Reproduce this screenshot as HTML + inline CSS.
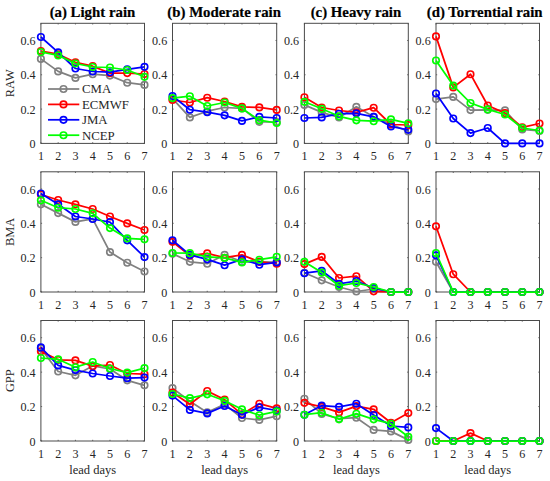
<!DOCTYPE html><html><head><meta charset="utf-8"><style>html,body{margin:0;padding:0;background:#fff}svg{display:block}text{font-family:"Liberation Serif",serif}</style></head><body>
<svg width="550" height="481" viewBox="0 0 550 481">
<path d="M40.90 143.4v-1.2M40.90 23.3v1.2M58.17 143.4v-1.2M58.17 23.3v1.2M75.43 143.4v-1.2M75.43 23.3v1.2M92.70 143.4v-1.2M92.70 23.3v1.2M109.97 143.4v-1.2M109.97 23.3v1.2M127.23 143.4v-1.2M127.23 23.3v1.2M144.50 143.4v-1.2M144.50 23.3v1.2M40.9 143.40h1.2M144.5 143.40h-1.2M40.9 109.09h1.2M144.5 109.09h-1.2M40.9 74.77h1.2M144.5 74.77h-1.2M40.9 40.46h1.2M144.5 40.46h-1.2" stroke="#4a4a4a" stroke-width="0.8" fill="none"/>
<rect x="40.9" y="23.3" width="103.6" height="120.1" fill="none" stroke="#4a4a4a" stroke-width="1"/>
<path d="M40.90 58.90 L58.17 71.40 L75.43 77.90 L92.70 74.20 L109.97 75.60 L127.23 82.70 L144.50 84.90" stroke="#808080" stroke-width="1.75" fill="none" stroke-linejoin="round"/>
<circle cx="40.90" cy="58.90" r="3.25" stroke="#808080" stroke-width="1.65" fill="none"/>
<circle cx="58.17" cy="71.40" r="3.25" stroke="#808080" stroke-width="1.65" fill="none"/>
<circle cx="75.43" cy="77.90" r="3.25" stroke="#808080" stroke-width="1.65" fill="none"/>
<circle cx="92.70" cy="74.20" r="3.25" stroke="#808080" stroke-width="1.65" fill="none"/>
<circle cx="109.97" cy="75.60" r="3.25" stroke="#808080" stroke-width="1.65" fill="none"/>
<circle cx="127.23" cy="82.70" r="3.25" stroke="#808080" stroke-width="1.65" fill="none"/>
<circle cx="144.50" cy="84.90" r="3.25" stroke="#808080" stroke-width="1.65" fill="none"/>
<path d="M40.90 51.10 L58.17 54.20 L75.43 62.30 L92.70 66.20 L109.97 73.10 L127.23 73.10 L144.50 74.00" stroke="#ff0000" stroke-width="1.75" fill="none" stroke-linejoin="round"/>
<circle cx="40.90" cy="51.10" r="3.25" stroke="#ff0000" stroke-width="1.65" fill="none"/>
<circle cx="58.17" cy="54.20" r="3.25" stroke="#ff0000" stroke-width="1.65" fill="none"/>
<circle cx="75.43" cy="62.30" r="3.25" stroke="#ff0000" stroke-width="1.65" fill="none"/>
<circle cx="92.70" cy="66.20" r="3.25" stroke="#ff0000" stroke-width="1.65" fill="none"/>
<circle cx="109.97" cy="73.10" r="3.25" stroke="#ff0000" stroke-width="1.65" fill="none"/>
<circle cx="127.23" cy="73.10" r="3.25" stroke="#ff0000" stroke-width="1.65" fill="none"/>
<circle cx="144.50" cy="74.00" r="3.25" stroke="#ff0000" stroke-width="1.65" fill="none"/>
<path d="M40.90 37.00 L58.17 52.30 L75.43 68.50 L92.70 71.50 L109.97 72.20 L127.23 69.30 L144.50 66.80" stroke="#0000ff" stroke-width="1.75" fill="none" stroke-linejoin="round"/>
<circle cx="40.90" cy="37.00" r="3.25" stroke="#0000ff" stroke-width="1.65" fill="none"/>
<circle cx="58.17" cy="52.30" r="3.25" stroke="#0000ff" stroke-width="1.65" fill="none"/>
<circle cx="75.43" cy="68.50" r="3.25" stroke="#0000ff" stroke-width="1.65" fill="none"/>
<circle cx="92.70" cy="71.50" r="3.25" stroke="#0000ff" stroke-width="1.65" fill="none"/>
<circle cx="109.97" cy="72.20" r="3.25" stroke="#0000ff" stroke-width="1.65" fill="none"/>
<circle cx="127.23" cy="69.30" r="3.25" stroke="#0000ff" stroke-width="1.65" fill="none"/>
<circle cx="144.50" cy="66.80" r="3.25" stroke="#0000ff" stroke-width="1.65" fill="none"/>
<path d="M40.90 52.00 L58.17 55.40 L75.43 63.50 L92.70 67.00 L109.97 67.50 L127.23 70.00 L144.50 76.80" stroke="#00ff00" stroke-width="1.75" fill="none" stroke-linejoin="round"/>
<circle cx="40.90" cy="52.00" r="3.25" stroke="#00ff00" stroke-width="1.65" fill="none"/>
<circle cx="58.17" cy="55.40" r="3.25" stroke="#00ff00" stroke-width="1.65" fill="none"/>
<circle cx="75.43" cy="63.50" r="3.25" stroke="#00ff00" stroke-width="1.65" fill="none"/>
<circle cx="92.70" cy="67.00" r="3.25" stroke="#00ff00" stroke-width="1.65" fill="none"/>
<circle cx="109.97" cy="67.50" r="3.25" stroke="#00ff00" stroke-width="1.65" fill="none"/>
<circle cx="127.23" cy="70.00" r="3.25" stroke="#00ff00" stroke-width="1.65" fill="none"/>
<circle cx="144.50" cy="76.80" r="3.25" stroke="#00ff00" stroke-width="1.65" fill="none"/>
<text transform="translate(35.60,147.95) scale(0.91,1)" font-size="13.3" text-anchor="end" fill="#262626">0</text>
<text transform="translate(35.60,113.64) scale(0.91,1)" font-size="13.3" text-anchor="end" fill="#262626">0.2</text>
<text transform="translate(35.60,79.32) scale(0.91,1)" font-size="13.3" text-anchor="end" fill="#262626">0.4</text>
<text transform="translate(35.60,45.01) scale(0.91,1)" font-size="13.3" text-anchor="end" fill="#262626">0.6</text>
<text transform="translate(40.90,159.90) scale(0.91,1)" font-size="13.3" text-anchor="middle" fill="#262626">1</text>
<text transform="translate(58.17,159.90) scale(0.91,1)" font-size="13.3" text-anchor="middle" fill="#262626">2</text>
<text transform="translate(75.43,159.90) scale(0.91,1)" font-size="13.3" text-anchor="middle" fill="#262626">3</text>
<text transform="translate(92.70,159.90) scale(0.91,1)" font-size="13.3" text-anchor="middle" fill="#262626">4</text>
<text transform="translate(109.97,159.90) scale(0.91,1)" font-size="13.3" text-anchor="middle" fill="#262626">5</text>
<text transform="translate(127.23,159.90) scale(0.91,1)" font-size="13.3" text-anchor="middle" fill="#262626">6</text>
<text transform="translate(144.50,159.90) scale(0.91,1)" font-size="13.3" text-anchor="middle" fill="#262626">7</text>
<text transform="translate(92.45,17) scale(1.06,1)" font-size="14" font-weight="bold" text-anchor="middle" fill="#000" stroke="#000" stroke-width="0.2">(a) Light rain</text>
<path d="M172.50 143.4v-1.2M172.50 23.3v1.2M189.87 143.4v-1.2M189.87 23.3v1.2M207.23 143.4v-1.2M207.23 23.3v1.2M224.60 143.4v-1.2M224.60 23.3v1.2M241.97 143.4v-1.2M241.97 23.3v1.2M259.33 143.4v-1.2M259.33 23.3v1.2M276.70 143.4v-1.2M276.70 23.3v1.2M172.5 143.40h1.2M276.7 143.40h-1.2M172.5 109.09h1.2M276.7 109.09h-1.2M172.5 74.77h1.2M276.7 74.77h-1.2M172.5 40.46h1.2M276.7 40.46h-1.2" stroke="#4a4a4a" stroke-width="0.8" fill="none"/>
<rect x="172.5" y="23.3" width="104.2" height="120.1" fill="none" stroke="#4a4a4a" stroke-width="1"/>
<path d="M172.50 98.70 L189.87 117.40 L207.23 111.20 L224.60 107.50 L241.97 108.40 L259.33 121.80 L276.70 122.00" stroke="#808080" stroke-width="1.75" fill="none" stroke-linejoin="round"/>
<circle cx="172.50" cy="98.70" r="3.25" stroke="#808080" stroke-width="1.65" fill="none"/>
<circle cx="189.87" cy="117.40" r="3.25" stroke="#808080" stroke-width="1.65" fill="none"/>
<circle cx="207.23" cy="111.20" r="3.25" stroke="#808080" stroke-width="1.65" fill="none"/>
<circle cx="224.60" cy="107.50" r="3.25" stroke="#808080" stroke-width="1.65" fill="none"/>
<circle cx="241.97" cy="108.40" r="3.25" stroke="#808080" stroke-width="1.65" fill="none"/>
<circle cx="259.33" cy="121.80" r="3.25" stroke="#808080" stroke-width="1.65" fill="none"/>
<circle cx="276.70" cy="122.00" r="3.25" stroke="#808080" stroke-width="1.65" fill="none"/>
<path d="M172.50 100.00 L189.87 102.50 L207.23 97.70 L224.60 101.50 L241.97 106.80 L259.33 107.40 L276.70 109.90" stroke="#ff0000" stroke-width="1.75" fill="none" stroke-linejoin="round"/>
<circle cx="172.50" cy="100.00" r="3.25" stroke="#ff0000" stroke-width="1.65" fill="none"/>
<circle cx="189.87" cy="102.50" r="3.25" stroke="#ff0000" stroke-width="1.65" fill="none"/>
<circle cx="207.23" cy="97.70" r="3.25" stroke="#ff0000" stroke-width="1.65" fill="none"/>
<circle cx="224.60" cy="101.50" r="3.25" stroke="#ff0000" stroke-width="1.65" fill="none"/>
<circle cx="241.97" cy="106.80" r="3.25" stroke="#ff0000" stroke-width="1.65" fill="none"/>
<circle cx="259.33" cy="107.40" r="3.25" stroke="#ff0000" stroke-width="1.65" fill="none"/>
<circle cx="276.70" cy="109.90" r="3.25" stroke="#ff0000" stroke-width="1.65" fill="none"/>
<path d="M172.50 96.00 L189.87 109.70 L207.23 112.20 L224.60 115.30 L241.97 120.90 L259.33 116.80 L276.70 118.00" stroke="#0000ff" stroke-width="1.75" fill="none" stroke-linejoin="round"/>
<circle cx="172.50" cy="96.00" r="3.25" stroke="#0000ff" stroke-width="1.65" fill="none"/>
<circle cx="189.87" cy="109.70" r="3.25" stroke="#0000ff" stroke-width="1.65" fill="none"/>
<circle cx="207.23" cy="112.20" r="3.25" stroke="#0000ff" stroke-width="1.65" fill="none"/>
<circle cx="224.60" cy="115.30" r="3.25" stroke="#0000ff" stroke-width="1.65" fill="none"/>
<circle cx="241.97" cy="120.90" r="3.25" stroke="#0000ff" stroke-width="1.65" fill="none"/>
<circle cx="259.33" cy="116.80" r="3.25" stroke="#0000ff" stroke-width="1.65" fill="none"/>
<circle cx="276.70" cy="118.00" r="3.25" stroke="#0000ff" stroke-width="1.65" fill="none"/>
<path d="M172.50 98.10 L189.87 96.20 L207.23 106.00 L224.60 102.50 L241.97 108.40 L259.33 120.20 L276.70 123.00" stroke="#00ff00" stroke-width="1.75" fill="none" stroke-linejoin="round"/>
<circle cx="172.50" cy="98.10" r="3.25" stroke="#00ff00" stroke-width="1.65" fill="none"/>
<circle cx="189.87" cy="96.20" r="3.25" stroke="#00ff00" stroke-width="1.65" fill="none"/>
<circle cx="207.23" cy="106.00" r="3.25" stroke="#00ff00" stroke-width="1.65" fill="none"/>
<circle cx="224.60" cy="102.50" r="3.25" stroke="#00ff00" stroke-width="1.65" fill="none"/>
<circle cx="241.97" cy="108.40" r="3.25" stroke="#00ff00" stroke-width="1.65" fill="none"/>
<circle cx="259.33" cy="120.20" r="3.25" stroke="#00ff00" stroke-width="1.65" fill="none"/>
<circle cx="276.70" cy="123.00" r="3.25" stroke="#00ff00" stroke-width="1.65" fill="none"/>
<text transform="translate(167.20,147.95) scale(0.91,1)" font-size="13.3" text-anchor="end" fill="#262626">0</text>
<text transform="translate(167.20,113.64) scale(0.91,1)" font-size="13.3" text-anchor="end" fill="#262626">0.2</text>
<text transform="translate(167.20,79.32) scale(0.91,1)" font-size="13.3" text-anchor="end" fill="#262626">0.4</text>
<text transform="translate(167.20,45.01) scale(0.91,1)" font-size="13.3" text-anchor="end" fill="#262626">0.6</text>
<text transform="translate(172.50,159.90) scale(0.91,1)" font-size="13.3" text-anchor="middle" fill="#262626">1</text>
<text transform="translate(189.87,159.90) scale(0.91,1)" font-size="13.3" text-anchor="middle" fill="#262626">2</text>
<text transform="translate(207.23,159.90) scale(0.91,1)" font-size="13.3" text-anchor="middle" fill="#262626">3</text>
<text transform="translate(224.60,159.90) scale(0.91,1)" font-size="13.3" text-anchor="middle" fill="#262626">4</text>
<text transform="translate(241.97,159.90) scale(0.91,1)" font-size="13.3" text-anchor="middle" fill="#262626">5</text>
<text transform="translate(259.33,159.90) scale(0.91,1)" font-size="13.3" text-anchor="middle" fill="#262626">6</text>
<text transform="translate(276.70,159.90) scale(0.91,1)" font-size="13.3" text-anchor="middle" fill="#262626">7</text>
<text transform="translate(224.1,17) scale(1.06,1)" font-size="14" font-weight="bold" text-anchor="middle" fill="#000" stroke="#000" stroke-width="0.2">(b) Moderate rain</text>
<path d="M304.40 143.4v-1.2M304.40 23.3v1.2M321.72 143.4v-1.2M321.72 23.3v1.2M339.03 143.4v-1.2M339.03 23.3v1.2M356.35 143.4v-1.2M356.35 23.3v1.2M373.67 143.4v-1.2M373.67 23.3v1.2M390.98 143.4v-1.2M390.98 23.3v1.2M408.30 143.4v-1.2M408.30 23.3v1.2M304.4 143.40h1.2M408.29999999999995 143.40h-1.2M304.4 109.09h1.2M408.29999999999995 109.09h-1.2M304.4 74.77h1.2M408.29999999999995 74.77h-1.2M304.4 40.46h1.2M408.29999999999995 40.46h-1.2" stroke="#4a4a4a" stroke-width="0.8" fill="none"/>
<rect x="304.4" y="23.3" width="103.9" height="120.1" fill="none" stroke="#4a4a4a" stroke-width="1"/>
<path d="M304.40 104.90 L321.72 112.40 L339.03 117.50 L356.35 106.80 L373.67 116.80 L390.98 124.30 L408.30 131.50" stroke="#808080" stroke-width="1.75" fill="none" stroke-linejoin="round"/>
<circle cx="304.40" cy="104.90" r="3.25" stroke="#808080" stroke-width="1.65" fill="none"/>
<circle cx="321.72" cy="112.40" r="3.25" stroke="#808080" stroke-width="1.65" fill="none"/>
<circle cx="339.03" cy="117.50" r="3.25" stroke="#808080" stroke-width="1.65" fill="none"/>
<circle cx="356.35" cy="106.80" r="3.25" stroke="#808080" stroke-width="1.65" fill="none"/>
<circle cx="373.67" cy="116.80" r="3.25" stroke="#808080" stroke-width="1.65" fill="none"/>
<circle cx="390.98" cy="124.30" r="3.25" stroke="#808080" stroke-width="1.65" fill="none"/>
<circle cx="408.30" cy="131.50" r="3.25" stroke="#808080" stroke-width="1.65" fill="none"/>
<path d="M304.40 97.20 L321.72 107.50 L339.03 110.50 L356.35 112.40 L373.67 107.70 L390.98 124.50 L408.30 125.00" stroke="#ff0000" stroke-width="1.75" fill="none" stroke-linejoin="round"/>
<circle cx="304.40" cy="97.20" r="3.25" stroke="#ff0000" stroke-width="1.65" fill="none"/>
<circle cx="321.72" cy="107.50" r="3.25" stroke="#ff0000" stroke-width="1.65" fill="none"/>
<circle cx="339.03" cy="110.50" r="3.25" stroke="#ff0000" stroke-width="1.65" fill="none"/>
<circle cx="356.35" cy="112.40" r="3.25" stroke="#ff0000" stroke-width="1.65" fill="none"/>
<circle cx="373.67" cy="107.70" r="3.25" stroke="#ff0000" stroke-width="1.65" fill="none"/>
<circle cx="390.98" cy="124.50" r="3.25" stroke="#ff0000" stroke-width="1.65" fill="none"/>
<circle cx="408.30" cy="125.00" r="3.25" stroke="#ff0000" stroke-width="1.65" fill="none"/>
<path d="M304.40 118.00 L321.72 117.40 L339.03 113.70 L356.35 113.30 L373.67 116.80 L390.98 126.50 L408.30 129.80" stroke="#0000ff" stroke-width="1.75" fill="none" stroke-linejoin="round"/>
<circle cx="304.40" cy="118.00" r="3.25" stroke="#0000ff" stroke-width="1.65" fill="none"/>
<circle cx="321.72" cy="117.40" r="3.25" stroke="#0000ff" stroke-width="1.65" fill="none"/>
<circle cx="339.03" cy="113.70" r="3.25" stroke="#0000ff" stroke-width="1.65" fill="none"/>
<circle cx="356.35" cy="113.30" r="3.25" stroke="#0000ff" stroke-width="1.65" fill="none"/>
<circle cx="373.67" cy="116.80" r="3.25" stroke="#0000ff" stroke-width="1.65" fill="none"/>
<circle cx="390.98" cy="126.50" r="3.25" stroke="#0000ff" stroke-width="1.65" fill="none"/>
<circle cx="408.30" cy="129.80" r="3.25" stroke="#0000ff" stroke-width="1.65" fill="none"/>
<path d="M304.40 101.80 L321.72 108.80 L339.03 116.30 L356.35 120.30 L373.67 121.20 L390.98 119.30 L408.30 123.30" stroke="#00ff00" stroke-width="1.75" fill="none" stroke-linejoin="round"/>
<circle cx="304.40" cy="101.80" r="3.25" stroke="#00ff00" stroke-width="1.65" fill="none"/>
<circle cx="321.72" cy="108.80" r="3.25" stroke="#00ff00" stroke-width="1.65" fill="none"/>
<circle cx="339.03" cy="116.30" r="3.25" stroke="#00ff00" stroke-width="1.65" fill="none"/>
<circle cx="356.35" cy="120.30" r="3.25" stroke="#00ff00" stroke-width="1.65" fill="none"/>
<circle cx="373.67" cy="121.20" r="3.25" stroke="#00ff00" stroke-width="1.65" fill="none"/>
<circle cx="390.98" cy="119.30" r="3.25" stroke="#00ff00" stroke-width="1.65" fill="none"/>
<circle cx="408.30" cy="123.30" r="3.25" stroke="#00ff00" stroke-width="1.65" fill="none"/>
<text transform="translate(299.10,147.95) scale(0.91,1)" font-size="13.3" text-anchor="end" fill="#262626">0</text>
<text transform="translate(299.10,113.64) scale(0.91,1)" font-size="13.3" text-anchor="end" fill="#262626">0.2</text>
<text transform="translate(299.10,79.32) scale(0.91,1)" font-size="13.3" text-anchor="end" fill="#262626">0.4</text>
<text transform="translate(299.10,45.01) scale(0.91,1)" font-size="13.3" text-anchor="end" fill="#262626">0.6</text>
<text transform="translate(304.40,159.90) scale(0.91,1)" font-size="13.3" text-anchor="middle" fill="#262626">1</text>
<text transform="translate(321.72,159.90) scale(0.91,1)" font-size="13.3" text-anchor="middle" fill="#262626">2</text>
<text transform="translate(339.03,159.90) scale(0.91,1)" font-size="13.3" text-anchor="middle" fill="#262626">3</text>
<text transform="translate(356.35,159.90) scale(0.91,1)" font-size="13.3" text-anchor="middle" fill="#262626">4</text>
<text transform="translate(373.67,159.90) scale(0.91,1)" font-size="13.3" text-anchor="middle" fill="#262626">5</text>
<text transform="translate(390.98,159.90) scale(0.91,1)" font-size="13.3" text-anchor="middle" fill="#262626">6</text>
<text transform="translate(408.30,159.90) scale(0.91,1)" font-size="13.3" text-anchor="middle" fill="#262626">7</text>
<text transform="translate(355.95,17) scale(1.06,1)" font-size="14" font-weight="bold" text-anchor="middle" fill="#000" stroke="#000" stroke-width="0.2">(c) Heavy rain</text>
<path d="M436.00 143.4v-1.2M436.00 23.3v1.2M453.25 143.4v-1.2M453.25 23.3v1.2M470.50 143.4v-1.2M470.50 23.3v1.2M487.75 143.4v-1.2M487.75 23.3v1.2M505.00 143.4v-1.2M505.00 23.3v1.2M522.25 143.4v-1.2M522.25 23.3v1.2M539.50 143.4v-1.2M539.50 23.3v1.2M436.0 143.40h1.2M539.5 143.40h-1.2M436.0 109.09h1.2M539.5 109.09h-1.2M436.0 74.77h1.2M539.5 74.77h-1.2M436.0 40.46h1.2M539.5 40.46h-1.2" stroke="#4a4a4a" stroke-width="0.8" fill="none"/>
<rect x="436.0" y="23.3" width="103.5" height="120.1" fill="none" stroke="#4a4a4a" stroke-width="1"/>
<path d="M436.00 99.10 L453.25 96.90 L470.50 110.10 L487.75 109.80 L505.00 110.40 L522.25 129.50 L539.50 131.00" stroke="#808080" stroke-width="1.75" fill="none" stroke-linejoin="round"/>
<circle cx="436.00" cy="99.10" r="3.25" stroke="#808080" stroke-width="1.65" fill="none"/>
<circle cx="453.25" cy="96.90" r="3.25" stroke="#808080" stroke-width="1.65" fill="none"/>
<circle cx="470.50" cy="110.10" r="3.25" stroke="#808080" stroke-width="1.65" fill="none"/>
<circle cx="487.75" cy="109.80" r="3.25" stroke="#808080" stroke-width="1.65" fill="none"/>
<circle cx="505.00" cy="110.40" r="3.25" stroke="#808080" stroke-width="1.65" fill="none"/>
<circle cx="522.25" cy="129.50" r="3.25" stroke="#808080" stroke-width="1.65" fill="none"/>
<circle cx="539.50" cy="131.00" r="3.25" stroke="#808080" stroke-width="1.65" fill="none"/>
<path d="M436.00 36.40 L453.25 87.40 L470.50 74.20 L487.75 105.50 L505.00 113.10 L522.25 127.30 L539.50 123.50" stroke="#ff0000" stroke-width="1.75" fill="none" stroke-linejoin="round"/>
<circle cx="436.00" cy="36.40" r="3.25" stroke="#ff0000" stroke-width="1.65" fill="none"/>
<circle cx="453.25" cy="87.40" r="3.25" stroke="#ff0000" stroke-width="1.65" fill="none"/>
<circle cx="470.50" cy="74.20" r="3.25" stroke="#ff0000" stroke-width="1.65" fill="none"/>
<circle cx="487.75" cy="105.50" r="3.25" stroke="#ff0000" stroke-width="1.65" fill="none"/>
<circle cx="505.00" cy="113.10" r="3.25" stroke="#ff0000" stroke-width="1.65" fill="none"/>
<circle cx="522.25" cy="127.30" r="3.25" stroke="#ff0000" stroke-width="1.65" fill="none"/>
<circle cx="539.50" cy="123.50" r="3.25" stroke="#ff0000" stroke-width="1.65" fill="none"/>
<path d="M436.00 93.50 L453.25 118.50 L470.50 133.10 L487.75 128.00 L505.00 143.40 L522.25 143.40 L539.50 143.40" stroke="#0000ff" stroke-width="1.75" fill="none" stroke-linejoin="round"/>
<circle cx="436.00" cy="93.50" r="3.25" stroke="#0000ff" stroke-width="1.65" fill="none"/>
<circle cx="453.25" cy="118.50" r="3.25" stroke="#0000ff" stroke-width="1.65" fill="none"/>
<circle cx="470.50" cy="133.10" r="3.25" stroke="#0000ff" stroke-width="1.65" fill="none"/>
<circle cx="487.75" cy="128.00" r="3.25" stroke="#0000ff" stroke-width="1.65" fill="none"/>
<circle cx="505.00" cy="143.40" r="3.25" stroke="#0000ff" stroke-width="1.65" fill="none"/>
<circle cx="522.25" cy="143.40" r="3.25" stroke="#0000ff" stroke-width="1.65" fill="none"/>
<circle cx="539.50" cy="143.40" r="3.25" stroke="#0000ff" stroke-width="1.65" fill="none"/>
<path d="M436.00 60.50 L453.25 85.60 L470.50 103.00 L487.75 109.40 L505.00 114.50 L522.25 128.00 L539.50 130.50" stroke="#00ff00" stroke-width="1.75" fill="none" stroke-linejoin="round"/>
<circle cx="436.00" cy="60.50" r="3.25" stroke="#00ff00" stroke-width="1.65" fill="none"/>
<circle cx="453.25" cy="85.60" r="3.25" stroke="#00ff00" stroke-width="1.65" fill="none"/>
<circle cx="470.50" cy="103.00" r="3.25" stroke="#00ff00" stroke-width="1.65" fill="none"/>
<circle cx="487.75" cy="109.40" r="3.25" stroke="#00ff00" stroke-width="1.65" fill="none"/>
<circle cx="505.00" cy="114.50" r="3.25" stroke="#00ff00" stroke-width="1.65" fill="none"/>
<circle cx="522.25" cy="128.00" r="3.25" stroke="#00ff00" stroke-width="1.65" fill="none"/>
<circle cx="539.50" cy="130.50" r="3.25" stroke="#00ff00" stroke-width="1.65" fill="none"/>
<text transform="translate(430.70,147.95) scale(0.91,1)" font-size="13.3" text-anchor="end" fill="#262626">0</text>
<text transform="translate(430.70,113.64) scale(0.91,1)" font-size="13.3" text-anchor="end" fill="#262626">0.2</text>
<text transform="translate(430.70,79.32) scale(0.91,1)" font-size="13.3" text-anchor="end" fill="#262626">0.4</text>
<text transform="translate(430.70,45.01) scale(0.91,1)" font-size="13.3" text-anchor="end" fill="#262626">0.6</text>
<text transform="translate(436.00,159.90) scale(0.91,1)" font-size="13.3" text-anchor="middle" fill="#262626">1</text>
<text transform="translate(453.25,159.90) scale(0.91,1)" font-size="13.3" text-anchor="middle" fill="#262626">2</text>
<text transform="translate(470.50,159.90) scale(0.91,1)" font-size="13.3" text-anchor="middle" fill="#262626">3</text>
<text transform="translate(487.75,159.90) scale(0.91,1)" font-size="13.3" text-anchor="middle" fill="#262626">4</text>
<text transform="translate(505.00,159.90) scale(0.91,1)" font-size="13.3" text-anchor="middle" fill="#262626">5</text>
<text transform="translate(522.25,159.90) scale(0.91,1)" font-size="13.3" text-anchor="middle" fill="#262626">6</text>
<text transform="translate(539.50,159.90) scale(0.91,1)" font-size="13.3" text-anchor="middle" fill="#262626">7</text>
<text transform="translate(484.65,17) scale(1.06,1)" font-size="14" font-weight="bold" text-anchor="middle" fill="#000" stroke="#000" stroke-width="0.2">(d) Torrential rain</text>
<text transform="translate(13.9,83.35) rotate(-90)" font-size="12.4" text-anchor="middle" fill="#262626">RAW</text>
<path d="M40.90 292.0v-1.2M40.90 171.8v1.2M58.17 292.0v-1.2M58.17 171.8v1.2M75.43 292.0v-1.2M75.43 171.8v1.2M92.70 292.0v-1.2M92.70 171.8v1.2M109.97 292.0v-1.2M109.97 171.8v1.2M127.23 292.0v-1.2M127.23 171.8v1.2M144.50 292.0v-1.2M144.50 171.8v1.2M40.9 292.00h1.2M144.5 292.00h-1.2M40.9 257.66h1.2M144.5 257.66h-1.2M40.9 223.31h1.2M144.5 223.31h-1.2M40.9 188.97h1.2M144.5 188.97h-1.2" stroke="#4a4a4a" stroke-width="0.8" fill="none"/>
<rect x="40.9" y="171.8" width="103.6" height="120.2" fill="none" stroke="#4a4a4a" stroke-width="1"/>
<path d="M40.90 204.30 L58.17 213.10 L75.43 221.90 L92.70 218.80 L109.97 252.10 L127.23 262.70 L144.50 271.50" stroke="#808080" stroke-width="1.75" fill="none" stroke-linejoin="round"/>
<circle cx="40.90" cy="204.30" r="3.25" stroke="#808080" stroke-width="1.65" fill="none"/>
<circle cx="58.17" cy="213.10" r="3.25" stroke="#808080" stroke-width="1.65" fill="none"/>
<circle cx="75.43" cy="221.90" r="3.25" stroke="#808080" stroke-width="1.65" fill="none"/>
<circle cx="92.70" cy="218.80" r="3.25" stroke="#808080" stroke-width="1.65" fill="none"/>
<circle cx="109.97" cy="252.10" r="3.25" stroke="#808080" stroke-width="1.65" fill="none"/>
<circle cx="127.23" cy="262.70" r="3.25" stroke="#808080" stroke-width="1.65" fill="none"/>
<circle cx="144.50" cy="271.50" r="3.25" stroke="#808080" stroke-width="1.65" fill="none"/>
<path d="M40.90 194.50 L58.17 200.00 L75.43 204.30 L92.70 209.00 L109.97 216.50 L127.23 223.40 L144.50 230.00" stroke="#ff0000" stroke-width="1.75" fill="none" stroke-linejoin="round"/>
<circle cx="40.90" cy="194.50" r="3.25" stroke="#ff0000" stroke-width="1.65" fill="none"/>
<circle cx="58.17" cy="200.00" r="3.25" stroke="#ff0000" stroke-width="1.65" fill="none"/>
<circle cx="75.43" cy="204.30" r="3.25" stroke="#ff0000" stroke-width="1.65" fill="none"/>
<circle cx="92.70" cy="209.00" r="3.25" stroke="#ff0000" stroke-width="1.65" fill="none"/>
<circle cx="109.97" cy="216.50" r="3.25" stroke="#ff0000" stroke-width="1.65" fill="none"/>
<circle cx="127.23" cy="223.40" r="3.25" stroke="#ff0000" stroke-width="1.65" fill="none"/>
<circle cx="144.50" cy="230.00" r="3.25" stroke="#ff0000" stroke-width="1.65" fill="none"/>
<path d="M40.90 193.50 L58.17 204.30 L75.43 216.50 L92.70 219.00 L109.97 222.10 L127.23 240.30 L144.50 257.10" stroke="#0000ff" stroke-width="1.75" fill="none" stroke-linejoin="round"/>
<circle cx="40.90" cy="193.50" r="3.25" stroke="#0000ff" stroke-width="1.65" fill="none"/>
<circle cx="58.17" cy="204.30" r="3.25" stroke="#0000ff" stroke-width="1.65" fill="none"/>
<circle cx="75.43" cy="216.50" r="3.25" stroke="#0000ff" stroke-width="1.65" fill="none"/>
<circle cx="92.70" cy="219.00" r="3.25" stroke="#0000ff" stroke-width="1.65" fill="none"/>
<circle cx="109.97" cy="222.10" r="3.25" stroke="#0000ff" stroke-width="1.65" fill="none"/>
<circle cx="127.23" cy="240.30" r="3.25" stroke="#0000ff" stroke-width="1.65" fill="none"/>
<circle cx="144.50" cy="257.10" r="3.25" stroke="#0000ff" stroke-width="1.65" fill="none"/>
<path d="M40.90 200.30 L58.17 207.70 L75.43 209.00 L92.70 213.30 L109.97 228.10 L127.23 238.40 L144.50 239.30" stroke="#00ff00" stroke-width="1.75" fill="none" stroke-linejoin="round"/>
<circle cx="40.90" cy="200.30" r="3.25" stroke="#00ff00" stroke-width="1.65" fill="none"/>
<circle cx="58.17" cy="207.70" r="3.25" stroke="#00ff00" stroke-width="1.65" fill="none"/>
<circle cx="75.43" cy="209.00" r="3.25" stroke="#00ff00" stroke-width="1.65" fill="none"/>
<circle cx="92.70" cy="213.30" r="3.25" stroke="#00ff00" stroke-width="1.65" fill="none"/>
<circle cx="109.97" cy="228.10" r="3.25" stroke="#00ff00" stroke-width="1.65" fill="none"/>
<circle cx="127.23" cy="238.40" r="3.25" stroke="#00ff00" stroke-width="1.65" fill="none"/>
<circle cx="144.50" cy="239.30" r="3.25" stroke="#00ff00" stroke-width="1.65" fill="none"/>
<text transform="translate(35.60,296.55) scale(0.91,1)" font-size="13.3" text-anchor="end" fill="#262626">0</text>
<text transform="translate(35.60,262.21) scale(0.91,1)" font-size="13.3" text-anchor="end" fill="#262626">0.2</text>
<text transform="translate(35.60,227.86) scale(0.91,1)" font-size="13.3" text-anchor="end" fill="#262626">0.4</text>
<text transform="translate(35.60,193.52) scale(0.91,1)" font-size="13.3" text-anchor="end" fill="#262626">0.6</text>
<text transform="translate(40.90,308.50) scale(0.91,1)" font-size="13.3" text-anchor="middle" fill="#262626">1</text>
<text transform="translate(58.17,308.50) scale(0.91,1)" font-size="13.3" text-anchor="middle" fill="#262626">2</text>
<text transform="translate(75.43,308.50) scale(0.91,1)" font-size="13.3" text-anchor="middle" fill="#262626">3</text>
<text transform="translate(92.70,308.50) scale(0.91,1)" font-size="13.3" text-anchor="middle" fill="#262626">4</text>
<text transform="translate(109.97,308.50) scale(0.91,1)" font-size="13.3" text-anchor="middle" fill="#262626">5</text>
<text transform="translate(127.23,308.50) scale(0.91,1)" font-size="13.3" text-anchor="middle" fill="#262626">6</text>
<text transform="translate(144.50,308.50) scale(0.91,1)" font-size="13.3" text-anchor="middle" fill="#262626">7</text>
<path d="M172.50 292.0v-1.2M172.50 171.8v1.2M189.87 292.0v-1.2M189.87 171.8v1.2M207.23 292.0v-1.2M207.23 171.8v1.2M224.60 292.0v-1.2M224.60 171.8v1.2M241.97 292.0v-1.2M241.97 171.8v1.2M259.33 292.0v-1.2M259.33 171.8v1.2M276.70 292.0v-1.2M276.70 171.8v1.2M172.5 292.00h1.2M276.7 292.00h-1.2M172.5 257.66h1.2M276.7 257.66h-1.2M172.5 223.31h1.2M276.7 223.31h-1.2M172.5 188.97h1.2M276.7 188.97h-1.2" stroke="#4a4a4a" stroke-width="0.8" fill="none"/>
<rect x="172.5" y="171.8" width="104.2" height="120.2" fill="none" stroke="#4a4a4a" stroke-width="1"/>
<path d="M172.50 253.60 L189.87 261.80 L207.23 263.70 L224.60 254.80 L241.97 261.80 L259.33 261.80 L276.70 262.00" stroke="#808080" stroke-width="1.75" fill="none" stroke-linejoin="round"/>
<circle cx="172.50" cy="253.60" r="3.25" stroke="#808080" stroke-width="1.65" fill="none"/>
<circle cx="189.87" cy="261.80" r="3.25" stroke="#808080" stroke-width="1.65" fill="none"/>
<circle cx="207.23" cy="263.70" r="3.25" stroke="#808080" stroke-width="1.65" fill="none"/>
<circle cx="224.60" cy="254.80" r="3.25" stroke="#808080" stroke-width="1.65" fill="none"/>
<circle cx="241.97" cy="261.80" r="3.25" stroke="#808080" stroke-width="1.65" fill="none"/>
<circle cx="259.33" cy="261.80" r="3.25" stroke="#808080" stroke-width="1.65" fill="none"/>
<circle cx="276.70" cy="262.00" r="3.25" stroke="#808080" stroke-width="1.65" fill="none"/>
<path d="M172.50 241.80 L189.87 255.60 L207.23 253.40 L224.60 257.70 L241.97 254.90 L259.33 261.80 L276.70 263.70" stroke="#ff0000" stroke-width="1.75" fill="none" stroke-linejoin="round"/>
<circle cx="172.50" cy="241.80" r="3.25" stroke="#ff0000" stroke-width="1.65" fill="none"/>
<circle cx="189.87" cy="255.60" r="3.25" stroke="#ff0000" stroke-width="1.65" fill="none"/>
<circle cx="207.23" cy="253.40" r="3.25" stroke="#ff0000" stroke-width="1.65" fill="none"/>
<circle cx="224.60" cy="257.70" r="3.25" stroke="#ff0000" stroke-width="1.65" fill="none"/>
<circle cx="241.97" cy="254.90" r="3.25" stroke="#ff0000" stroke-width="1.65" fill="none"/>
<circle cx="259.33" cy="261.80" r="3.25" stroke="#ff0000" stroke-width="1.65" fill="none"/>
<circle cx="276.70" cy="263.70" r="3.25" stroke="#ff0000" stroke-width="1.65" fill="none"/>
<path d="M172.50 240.20 L189.87 254.90 L207.23 259.30 L224.60 265.20 L241.97 259.30 L259.33 264.70 L276.70 262.40" stroke="#0000ff" stroke-width="1.75" fill="none" stroke-linejoin="round"/>
<circle cx="172.50" cy="240.20" r="3.25" stroke="#0000ff" stroke-width="1.65" fill="none"/>
<circle cx="189.87" cy="254.90" r="3.25" stroke="#0000ff" stroke-width="1.65" fill="none"/>
<circle cx="207.23" cy="259.30" r="3.25" stroke="#0000ff" stroke-width="1.65" fill="none"/>
<circle cx="224.60" cy="265.20" r="3.25" stroke="#0000ff" stroke-width="1.65" fill="none"/>
<circle cx="241.97" cy="259.30" r="3.25" stroke="#0000ff" stroke-width="1.65" fill="none"/>
<circle cx="259.33" cy="264.70" r="3.25" stroke="#0000ff" stroke-width="1.65" fill="none"/>
<circle cx="276.70" cy="262.40" r="3.25" stroke="#0000ff" stroke-width="1.65" fill="none"/>
<path d="M172.50 253.00 L189.87 253.10 L207.23 256.80 L224.60 257.90 L241.97 262.40 L259.33 259.70 L276.70 256.80" stroke="#00ff00" stroke-width="1.75" fill="none" stroke-linejoin="round"/>
<circle cx="172.50" cy="253.00" r="3.25" stroke="#00ff00" stroke-width="1.65" fill="none"/>
<circle cx="189.87" cy="253.10" r="3.25" stroke="#00ff00" stroke-width="1.65" fill="none"/>
<circle cx="207.23" cy="256.80" r="3.25" stroke="#00ff00" stroke-width="1.65" fill="none"/>
<circle cx="224.60" cy="257.90" r="3.25" stroke="#00ff00" stroke-width="1.65" fill="none"/>
<circle cx="241.97" cy="262.40" r="3.25" stroke="#00ff00" stroke-width="1.65" fill="none"/>
<circle cx="259.33" cy="259.70" r="3.25" stroke="#00ff00" stroke-width="1.65" fill="none"/>
<circle cx="276.70" cy="256.80" r="3.25" stroke="#00ff00" stroke-width="1.65" fill="none"/>
<text transform="translate(167.20,296.55) scale(0.91,1)" font-size="13.3" text-anchor="end" fill="#262626">0</text>
<text transform="translate(167.20,262.21) scale(0.91,1)" font-size="13.3" text-anchor="end" fill="#262626">0.2</text>
<text transform="translate(167.20,227.86) scale(0.91,1)" font-size="13.3" text-anchor="end" fill="#262626">0.4</text>
<text transform="translate(167.20,193.52) scale(0.91,1)" font-size="13.3" text-anchor="end" fill="#262626">0.6</text>
<text transform="translate(172.50,308.50) scale(0.91,1)" font-size="13.3" text-anchor="middle" fill="#262626">1</text>
<text transform="translate(189.87,308.50) scale(0.91,1)" font-size="13.3" text-anchor="middle" fill="#262626">2</text>
<text transform="translate(207.23,308.50) scale(0.91,1)" font-size="13.3" text-anchor="middle" fill="#262626">3</text>
<text transform="translate(224.60,308.50) scale(0.91,1)" font-size="13.3" text-anchor="middle" fill="#262626">4</text>
<text transform="translate(241.97,308.50) scale(0.91,1)" font-size="13.3" text-anchor="middle" fill="#262626">5</text>
<text transform="translate(259.33,308.50) scale(0.91,1)" font-size="13.3" text-anchor="middle" fill="#262626">6</text>
<text transform="translate(276.70,308.50) scale(0.91,1)" font-size="13.3" text-anchor="middle" fill="#262626">7</text>
<path d="M304.40 292.0v-1.2M304.40 171.8v1.2M321.72 292.0v-1.2M321.72 171.8v1.2M339.03 292.0v-1.2M339.03 171.8v1.2M356.35 292.0v-1.2M356.35 171.8v1.2M373.67 292.0v-1.2M373.67 171.8v1.2M390.98 292.0v-1.2M390.98 171.8v1.2M408.30 292.0v-1.2M408.30 171.8v1.2M304.4 292.00h1.2M408.29999999999995 292.00h-1.2M304.4 257.66h1.2M408.29999999999995 257.66h-1.2M304.4 223.31h1.2M408.29999999999995 223.31h-1.2M304.4 188.97h1.2M408.29999999999995 188.97h-1.2" stroke="#4a4a4a" stroke-width="0.8" fill="none"/>
<rect x="304.4" y="171.8" width="103.9" height="120.2" fill="none" stroke="#4a4a4a" stroke-width="1"/>
<path d="M304.40 272.80 L321.72 280.30 L339.03 287.00 L356.35 291.50 L373.67 289.00 L390.98 292.00 L408.30 292.00" stroke="#808080" stroke-width="1.75" fill="none" stroke-linejoin="round"/>
<circle cx="304.40" cy="272.80" r="3.25" stroke="#808080" stroke-width="1.65" fill="none"/>
<circle cx="321.72" cy="280.30" r="3.25" stroke="#808080" stroke-width="1.65" fill="none"/>
<circle cx="339.03" cy="287.00" r="3.25" stroke="#808080" stroke-width="1.65" fill="none"/>
<circle cx="356.35" cy="291.50" r="3.25" stroke="#808080" stroke-width="1.65" fill="none"/>
<circle cx="373.67" cy="289.00" r="3.25" stroke="#808080" stroke-width="1.65" fill="none"/>
<circle cx="390.98" cy="292.00" r="3.25" stroke="#808080" stroke-width="1.65" fill="none"/>
<circle cx="408.30" cy="292.00" r="3.25" stroke="#808080" stroke-width="1.65" fill="none"/>
<path d="M304.40 264.10 L321.72 256.90 L339.03 278.00 L356.35 276.20 L373.67 291.30 L390.98 292.00 L408.30 292.00" stroke="#ff0000" stroke-width="1.75" fill="none" stroke-linejoin="round"/>
<circle cx="304.40" cy="264.10" r="3.25" stroke="#ff0000" stroke-width="1.65" fill="none"/>
<circle cx="321.72" cy="256.90" r="3.25" stroke="#ff0000" stroke-width="1.65" fill="none"/>
<circle cx="339.03" cy="278.00" r="3.25" stroke="#ff0000" stroke-width="1.65" fill="none"/>
<circle cx="356.35" cy="276.20" r="3.25" stroke="#ff0000" stroke-width="1.65" fill="none"/>
<circle cx="373.67" cy="291.30" r="3.25" stroke="#ff0000" stroke-width="1.65" fill="none"/>
<circle cx="390.98" cy="292.00" r="3.25" stroke="#ff0000" stroke-width="1.65" fill="none"/>
<circle cx="408.30" cy="292.00" r="3.25" stroke="#ff0000" stroke-width="1.65" fill="none"/>
<path d="M304.40 273.20 L321.72 270.80 L339.03 283.80 L356.35 281.00 L373.67 288.00 L390.98 292.00 L408.30 292.00" stroke="#0000ff" stroke-width="1.75" fill="none" stroke-linejoin="round"/>
<circle cx="304.40" cy="273.20" r="3.25" stroke="#0000ff" stroke-width="1.65" fill="none"/>
<circle cx="321.72" cy="270.80" r="3.25" stroke="#0000ff" stroke-width="1.65" fill="none"/>
<circle cx="339.03" cy="283.80" r="3.25" stroke="#0000ff" stroke-width="1.65" fill="none"/>
<circle cx="356.35" cy="281.00" r="3.25" stroke="#0000ff" stroke-width="1.65" fill="none"/>
<circle cx="373.67" cy="288.00" r="3.25" stroke="#0000ff" stroke-width="1.65" fill="none"/>
<circle cx="390.98" cy="292.00" r="3.25" stroke="#0000ff" stroke-width="1.65" fill="none"/>
<circle cx="408.30" cy="292.00" r="3.25" stroke="#0000ff" stroke-width="1.65" fill="none"/>
<path d="M304.40 261.80 L321.72 272.60 L339.03 285.70 L356.35 283.00 L373.67 287.00 L390.98 292.00 L408.30 292.00" stroke="#00ff00" stroke-width="1.75" fill="none" stroke-linejoin="round"/>
<circle cx="304.40" cy="261.80" r="3.25" stroke="#00ff00" stroke-width="1.65" fill="none"/>
<circle cx="321.72" cy="272.60" r="3.25" stroke="#00ff00" stroke-width="1.65" fill="none"/>
<circle cx="339.03" cy="285.70" r="3.25" stroke="#00ff00" stroke-width="1.65" fill="none"/>
<circle cx="356.35" cy="283.00" r="3.25" stroke="#00ff00" stroke-width="1.65" fill="none"/>
<circle cx="373.67" cy="287.00" r="3.25" stroke="#00ff00" stroke-width="1.65" fill="none"/>
<circle cx="390.98" cy="292.00" r="3.25" stroke="#00ff00" stroke-width="1.65" fill="none"/>
<circle cx="408.30" cy="292.00" r="3.25" stroke="#00ff00" stroke-width="1.65" fill="none"/>
<text transform="translate(299.10,296.55) scale(0.91,1)" font-size="13.3" text-anchor="end" fill="#262626">0</text>
<text transform="translate(299.10,262.21) scale(0.91,1)" font-size="13.3" text-anchor="end" fill="#262626">0.2</text>
<text transform="translate(299.10,227.86) scale(0.91,1)" font-size="13.3" text-anchor="end" fill="#262626">0.4</text>
<text transform="translate(299.10,193.52) scale(0.91,1)" font-size="13.3" text-anchor="end" fill="#262626">0.6</text>
<text transform="translate(304.40,308.50) scale(0.91,1)" font-size="13.3" text-anchor="middle" fill="#262626">1</text>
<text transform="translate(321.72,308.50) scale(0.91,1)" font-size="13.3" text-anchor="middle" fill="#262626">2</text>
<text transform="translate(339.03,308.50) scale(0.91,1)" font-size="13.3" text-anchor="middle" fill="#262626">3</text>
<text transform="translate(356.35,308.50) scale(0.91,1)" font-size="13.3" text-anchor="middle" fill="#262626">4</text>
<text transform="translate(373.67,308.50) scale(0.91,1)" font-size="13.3" text-anchor="middle" fill="#262626">5</text>
<text transform="translate(390.98,308.50) scale(0.91,1)" font-size="13.3" text-anchor="middle" fill="#262626">6</text>
<text transform="translate(408.30,308.50) scale(0.91,1)" font-size="13.3" text-anchor="middle" fill="#262626">7</text>
<path d="M436.00 292.0v-1.2M436.00 171.8v1.2M453.25 292.0v-1.2M453.25 171.8v1.2M470.50 292.0v-1.2M470.50 171.8v1.2M487.75 292.0v-1.2M487.75 171.8v1.2M505.00 292.0v-1.2M505.00 171.8v1.2M522.25 292.0v-1.2M522.25 171.8v1.2M539.50 292.0v-1.2M539.50 171.8v1.2M436.0 292.00h1.2M539.5 292.00h-1.2M436.0 257.66h1.2M539.5 257.66h-1.2M436.0 223.31h1.2M539.5 223.31h-1.2M436.0 188.97h1.2M539.5 188.97h-1.2" stroke="#4a4a4a" stroke-width="0.8" fill="none"/>
<rect x="436.0" y="171.8" width="103.5" height="120.2" fill="none" stroke="#4a4a4a" stroke-width="1"/>
<path d="M436.00 261.80 L453.25 292.00 L470.50 292.00 L487.75 292.00 L505.00 292.00 L522.25 292.00 L539.50 292.00" stroke="#808080" stroke-width="1.75" fill="none" stroke-linejoin="round"/>
<circle cx="436.00" cy="261.80" r="3.25" stroke="#808080" stroke-width="1.65" fill="none"/>
<circle cx="453.25" cy="292.00" r="3.25" stroke="#808080" stroke-width="1.65" fill="none"/>
<circle cx="470.50" cy="292.00" r="3.25" stroke="#808080" stroke-width="1.65" fill="none"/>
<circle cx="487.75" cy="292.00" r="3.25" stroke="#808080" stroke-width="1.65" fill="none"/>
<circle cx="505.00" cy="292.00" r="3.25" stroke="#808080" stroke-width="1.65" fill="none"/>
<circle cx="522.25" cy="292.00" r="3.25" stroke="#808080" stroke-width="1.65" fill="none"/>
<circle cx="539.50" cy="292.00" r="3.25" stroke="#808080" stroke-width="1.65" fill="none"/>
<path d="M436.00 226.30 L453.25 274.20 L470.50 292.00 L487.75 292.00 L505.00 292.00 L522.25 292.00 L539.50 292.00" stroke="#ff0000" stroke-width="1.75" fill="none" stroke-linejoin="round"/>
<circle cx="436.00" cy="226.30" r="3.25" stroke="#ff0000" stroke-width="1.65" fill="none"/>
<circle cx="453.25" cy="274.20" r="3.25" stroke="#ff0000" stroke-width="1.65" fill="none"/>
<circle cx="470.50" cy="292.00" r="3.25" stroke="#ff0000" stroke-width="1.65" fill="none"/>
<circle cx="487.75" cy="292.00" r="3.25" stroke="#ff0000" stroke-width="1.65" fill="none"/>
<circle cx="505.00" cy="292.00" r="3.25" stroke="#ff0000" stroke-width="1.65" fill="none"/>
<circle cx="522.25" cy="292.00" r="3.25" stroke="#ff0000" stroke-width="1.65" fill="none"/>
<circle cx="539.50" cy="292.00" r="3.25" stroke="#ff0000" stroke-width="1.65" fill="none"/>
<path d="M436.00 255.30 L453.25 292.00 L470.50 292.00 L487.75 292.00 L505.00 292.00 L522.25 292.00 L539.50 292.00" stroke="#0000ff" stroke-width="1.75" fill="none" stroke-linejoin="round"/>
<circle cx="436.00" cy="255.30" r="3.25" stroke="#0000ff" stroke-width="1.65" fill="none"/>
<circle cx="453.25" cy="292.00" r="3.25" stroke="#0000ff" stroke-width="1.65" fill="none"/>
<circle cx="470.50" cy="292.00" r="3.25" stroke="#0000ff" stroke-width="1.65" fill="none"/>
<circle cx="487.75" cy="292.00" r="3.25" stroke="#0000ff" stroke-width="1.65" fill="none"/>
<circle cx="505.00" cy="292.00" r="3.25" stroke="#0000ff" stroke-width="1.65" fill="none"/>
<circle cx="522.25" cy="292.00" r="3.25" stroke="#0000ff" stroke-width="1.65" fill="none"/>
<circle cx="539.50" cy="292.00" r="3.25" stroke="#0000ff" stroke-width="1.65" fill="none"/>
<path d="M436.00 253.00 L453.25 292.00 L470.50 292.00 L487.75 292.00 L505.00 292.00 L522.25 292.00 L539.50 292.00" stroke="#00ff00" stroke-width="1.75" fill="none" stroke-linejoin="round"/>
<circle cx="436.00" cy="253.00" r="3.25" stroke="#00ff00" stroke-width="1.65" fill="none"/>
<circle cx="453.25" cy="292.00" r="3.25" stroke="#00ff00" stroke-width="1.65" fill="none"/>
<circle cx="470.50" cy="292.00" r="3.25" stroke="#00ff00" stroke-width="1.65" fill="none"/>
<circle cx="487.75" cy="292.00" r="3.25" stroke="#00ff00" stroke-width="1.65" fill="none"/>
<circle cx="505.00" cy="292.00" r="3.25" stroke="#00ff00" stroke-width="1.65" fill="none"/>
<circle cx="522.25" cy="292.00" r="3.25" stroke="#00ff00" stroke-width="1.65" fill="none"/>
<circle cx="539.50" cy="292.00" r="3.25" stroke="#00ff00" stroke-width="1.65" fill="none"/>
<text transform="translate(430.70,296.55) scale(0.91,1)" font-size="13.3" text-anchor="end" fill="#262626">0</text>
<text transform="translate(430.70,262.21) scale(0.91,1)" font-size="13.3" text-anchor="end" fill="#262626">0.2</text>
<text transform="translate(430.70,227.86) scale(0.91,1)" font-size="13.3" text-anchor="end" fill="#262626">0.4</text>
<text transform="translate(430.70,193.52) scale(0.91,1)" font-size="13.3" text-anchor="end" fill="#262626">0.6</text>
<text transform="translate(436.00,308.50) scale(0.91,1)" font-size="13.3" text-anchor="middle" fill="#262626">1</text>
<text transform="translate(453.25,308.50) scale(0.91,1)" font-size="13.3" text-anchor="middle" fill="#262626">2</text>
<text transform="translate(470.50,308.50) scale(0.91,1)" font-size="13.3" text-anchor="middle" fill="#262626">3</text>
<text transform="translate(487.75,308.50) scale(0.91,1)" font-size="13.3" text-anchor="middle" fill="#262626">4</text>
<text transform="translate(505.00,308.50) scale(0.91,1)" font-size="13.3" text-anchor="middle" fill="#262626">5</text>
<text transform="translate(522.25,308.50) scale(0.91,1)" font-size="13.3" text-anchor="middle" fill="#262626">6</text>
<text transform="translate(539.50,308.50) scale(0.91,1)" font-size="13.3" text-anchor="middle" fill="#262626">7</text>
<text transform="translate(13.9,231.90) rotate(-90)" font-size="12.4" text-anchor="middle" fill="#262626">BMA</text>
<path d="M40.90 441.0v-1.2M40.90 320.5v1.2M58.17 441.0v-1.2M58.17 320.5v1.2M75.43 441.0v-1.2M75.43 320.5v1.2M92.70 441.0v-1.2M92.70 320.5v1.2M109.97 441.0v-1.2M109.97 320.5v1.2M127.23 441.0v-1.2M127.23 320.5v1.2M144.50 441.0v-1.2M144.50 320.5v1.2M40.9 441.00h1.2M144.5 441.00h-1.2M40.9 406.57h1.2M144.5 406.57h-1.2M40.9 372.14h1.2M144.5 372.14h-1.2M40.9 337.71h1.2M144.5 337.71h-1.2" stroke="#4a4a4a" stroke-width="0.8" fill="none"/>
<rect x="40.9" y="320.5" width="103.6" height="120.5" fill="none" stroke="#4a4a4a" stroke-width="1"/>
<path d="M40.90 348.50 L58.17 371.50 L75.43 375.30 L92.70 366.00 L109.97 369.00 L127.23 380.30 L144.50 385.30" stroke="#808080" stroke-width="1.75" fill="none" stroke-linejoin="round"/>
<circle cx="40.90" cy="348.50" r="3.25" stroke="#808080" stroke-width="1.65" fill="none"/>
<circle cx="58.17" cy="371.50" r="3.25" stroke="#808080" stroke-width="1.65" fill="none"/>
<circle cx="75.43" cy="375.30" r="3.25" stroke="#808080" stroke-width="1.65" fill="none"/>
<circle cx="92.70" cy="366.00" r="3.25" stroke="#808080" stroke-width="1.65" fill="none"/>
<circle cx="109.97" cy="369.00" r="3.25" stroke="#808080" stroke-width="1.65" fill="none"/>
<circle cx="127.23" cy="380.30" r="3.25" stroke="#808080" stroke-width="1.65" fill="none"/>
<circle cx="144.50" cy="385.30" r="3.25" stroke="#808080" stroke-width="1.65" fill="none"/>
<path d="M40.90 351.20 L58.17 359.80 L75.43 360.40 L92.70 366.20 L109.97 365.00 L127.23 373.50 L144.50 374.20" stroke="#ff0000" stroke-width="1.75" fill="none" stroke-linejoin="round"/>
<circle cx="40.90" cy="351.20" r="3.25" stroke="#ff0000" stroke-width="1.65" fill="none"/>
<circle cx="58.17" cy="359.80" r="3.25" stroke="#ff0000" stroke-width="1.65" fill="none"/>
<circle cx="75.43" cy="360.40" r="3.25" stroke="#ff0000" stroke-width="1.65" fill="none"/>
<circle cx="92.70" cy="366.20" r="3.25" stroke="#ff0000" stroke-width="1.65" fill="none"/>
<circle cx="109.97" cy="365.00" r="3.25" stroke="#ff0000" stroke-width="1.65" fill="none"/>
<circle cx="127.23" cy="373.50" r="3.25" stroke="#ff0000" stroke-width="1.65" fill="none"/>
<circle cx="144.50" cy="374.20" r="3.25" stroke="#ff0000" stroke-width="1.65" fill="none"/>
<path d="M40.90 347.40 L58.17 365.40 L75.43 370.10 L92.70 373.50 L109.97 376.00 L127.23 378.20 L144.50 377.60" stroke="#0000ff" stroke-width="1.75" fill="none" stroke-linejoin="round"/>
<circle cx="40.90" cy="347.40" r="3.25" stroke="#0000ff" stroke-width="1.65" fill="none"/>
<circle cx="58.17" cy="365.40" r="3.25" stroke="#0000ff" stroke-width="1.65" fill="none"/>
<circle cx="75.43" cy="370.10" r="3.25" stroke="#0000ff" stroke-width="1.65" fill="none"/>
<circle cx="92.70" cy="373.50" r="3.25" stroke="#0000ff" stroke-width="1.65" fill="none"/>
<circle cx="109.97" cy="376.00" r="3.25" stroke="#0000ff" stroke-width="1.65" fill="none"/>
<circle cx="127.23" cy="378.20" r="3.25" stroke="#0000ff" stroke-width="1.65" fill="none"/>
<circle cx="144.50" cy="377.60" r="3.25" stroke="#0000ff" stroke-width="1.65" fill="none"/>
<path d="M40.90 358.00 L58.17 359.30 L75.43 367.20 L92.70 362.00 L109.97 368.50 L127.23 372.60 L144.50 368.10" stroke="#00ff00" stroke-width="1.75" fill="none" stroke-linejoin="round"/>
<circle cx="40.90" cy="358.00" r="3.25" stroke="#00ff00" stroke-width="1.65" fill="none"/>
<circle cx="58.17" cy="359.30" r="3.25" stroke="#00ff00" stroke-width="1.65" fill="none"/>
<circle cx="75.43" cy="367.20" r="3.25" stroke="#00ff00" stroke-width="1.65" fill="none"/>
<circle cx="92.70" cy="362.00" r="3.25" stroke="#00ff00" stroke-width="1.65" fill="none"/>
<circle cx="109.97" cy="368.50" r="3.25" stroke="#00ff00" stroke-width="1.65" fill="none"/>
<circle cx="127.23" cy="372.60" r="3.25" stroke="#00ff00" stroke-width="1.65" fill="none"/>
<circle cx="144.50" cy="368.10" r="3.25" stroke="#00ff00" stroke-width="1.65" fill="none"/>
<text transform="translate(35.60,445.55) scale(0.91,1)" font-size="13.3" text-anchor="end" fill="#262626">0</text>
<text transform="translate(35.60,411.12) scale(0.91,1)" font-size="13.3" text-anchor="end" fill="#262626">0.2</text>
<text transform="translate(35.60,376.69) scale(0.91,1)" font-size="13.3" text-anchor="end" fill="#262626">0.4</text>
<text transform="translate(35.60,342.26) scale(0.91,1)" font-size="13.3" text-anchor="end" fill="#262626">0.6</text>
<text transform="translate(40.90,457.50) scale(0.91,1)" font-size="13.3" text-anchor="middle" fill="#262626">1</text>
<text transform="translate(58.17,457.50) scale(0.91,1)" font-size="13.3" text-anchor="middle" fill="#262626">2</text>
<text transform="translate(75.43,457.50) scale(0.91,1)" font-size="13.3" text-anchor="middle" fill="#262626">3</text>
<text transform="translate(92.70,457.50) scale(0.91,1)" font-size="13.3" text-anchor="middle" fill="#262626">4</text>
<text transform="translate(109.97,457.50) scale(0.91,1)" font-size="13.3" text-anchor="middle" fill="#262626">5</text>
<text transform="translate(127.23,457.50) scale(0.91,1)" font-size="13.3" text-anchor="middle" fill="#262626">6</text>
<text transform="translate(144.50,457.50) scale(0.91,1)" font-size="13.3" text-anchor="middle" fill="#262626">7</text>
<text x="92.70" y="474.40" font-size="12.5" text-anchor="middle" fill="#262626">lead days</text>
<path d="M172.50 441.0v-1.2M172.50 320.5v1.2M189.87 441.0v-1.2M189.87 320.5v1.2M207.23 441.0v-1.2M207.23 320.5v1.2M224.60 441.0v-1.2M224.60 320.5v1.2M241.97 441.0v-1.2M241.97 320.5v1.2M259.33 441.0v-1.2M259.33 320.5v1.2M276.70 441.0v-1.2M276.70 320.5v1.2M172.5 441.00h1.2M276.7 441.00h-1.2M172.5 406.57h1.2M276.7 406.57h-1.2M172.5 372.14h1.2M276.7 372.14h-1.2M172.5 337.71h1.2M276.7 337.71h-1.2" stroke="#4a4a4a" stroke-width="0.8" fill="none"/>
<rect x="172.5" y="320.5" width="104.2" height="120.5" fill="none" stroke="#4a4a4a" stroke-width="1"/>
<path d="M172.50 388.10 L189.87 401.20 L207.23 412.40 L224.60 404.30 L241.97 418.00 L259.33 419.90 L276.70 416.20" stroke="#808080" stroke-width="1.75" fill="none" stroke-linejoin="round"/>
<circle cx="172.50" cy="388.10" r="3.25" stroke="#808080" stroke-width="1.65" fill="none"/>
<circle cx="189.87" cy="401.20" r="3.25" stroke="#808080" stroke-width="1.65" fill="none"/>
<circle cx="207.23" cy="412.40" r="3.25" stroke="#808080" stroke-width="1.65" fill="none"/>
<circle cx="224.60" cy="404.30" r="3.25" stroke="#808080" stroke-width="1.65" fill="none"/>
<circle cx="241.97" cy="418.00" r="3.25" stroke="#808080" stroke-width="1.65" fill="none"/>
<circle cx="259.33" cy="419.90" r="3.25" stroke="#808080" stroke-width="1.65" fill="none"/>
<circle cx="276.70" cy="416.20" r="3.25" stroke="#808080" stroke-width="1.65" fill="none"/>
<path d="M172.50 392.50 L189.87 404.30 L207.23 391.00 L224.60 399.60 L241.97 414.30 L259.33 403.70 L276.70 408.40" stroke="#ff0000" stroke-width="1.75" fill="none" stroke-linejoin="round"/>
<circle cx="172.50" cy="392.50" r="3.25" stroke="#ff0000" stroke-width="1.65" fill="none"/>
<circle cx="189.87" cy="404.30" r="3.25" stroke="#ff0000" stroke-width="1.65" fill="none"/>
<circle cx="207.23" cy="391.00" r="3.25" stroke="#ff0000" stroke-width="1.65" fill="none"/>
<circle cx="224.60" cy="399.60" r="3.25" stroke="#ff0000" stroke-width="1.65" fill="none"/>
<circle cx="241.97" cy="414.30" r="3.25" stroke="#ff0000" stroke-width="1.65" fill="none"/>
<circle cx="259.33" cy="403.70" r="3.25" stroke="#ff0000" stroke-width="1.65" fill="none"/>
<circle cx="276.70" cy="408.40" r="3.25" stroke="#ff0000" stroke-width="1.65" fill="none"/>
<path d="M172.50 395.60 L189.87 409.90 L207.23 413.40 L224.60 406.00 L241.97 414.70 L259.33 407.40 L276.70 410.50" stroke="#0000ff" stroke-width="1.75" fill="none" stroke-linejoin="round"/>
<circle cx="172.50" cy="395.60" r="3.25" stroke="#0000ff" stroke-width="1.65" fill="none"/>
<circle cx="189.87" cy="409.90" r="3.25" stroke="#0000ff" stroke-width="1.65" fill="none"/>
<circle cx="207.23" cy="413.40" r="3.25" stroke="#0000ff" stroke-width="1.65" fill="none"/>
<circle cx="224.60" cy="406.00" r="3.25" stroke="#0000ff" stroke-width="1.65" fill="none"/>
<circle cx="241.97" cy="414.70" r="3.25" stroke="#0000ff" stroke-width="1.65" fill="none"/>
<circle cx="259.33" cy="407.40" r="3.25" stroke="#0000ff" stroke-width="1.65" fill="none"/>
<circle cx="276.70" cy="410.50" r="3.25" stroke="#0000ff" stroke-width="1.65" fill="none"/>
<path d="M172.50 394.00 L189.87 398.10 L207.23 394.30 L224.60 400.80 L241.97 409.30 L259.33 415.20 L276.70 411.40" stroke="#00ff00" stroke-width="1.75" fill="none" stroke-linejoin="round"/>
<circle cx="172.50" cy="394.00" r="3.25" stroke="#00ff00" stroke-width="1.65" fill="none"/>
<circle cx="189.87" cy="398.10" r="3.25" stroke="#00ff00" stroke-width="1.65" fill="none"/>
<circle cx="207.23" cy="394.30" r="3.25" stroke="#00ff00" stroke-width="1.65" fill="none"/>
<circle cx="224.60" cy="400.80" r="3.25" stroke="#00ff00" stroke-width="1.65" fill="none"/>
<circle cx="241.97" cy="409.30" r="3.25" stroke="#00ff00" stroke-width="1.65" fill="none"/>
<circle cx="259.33" cy="415.20" r="3.25" stroke="#00ff00" stroke-width="1.65" fill="none"/>
<circle cx="276.70" cy="411.40" r="3.25" stroke="#00ff00" stroke-width="1.65" fill="none"/>
<text transform="translate(167.20,445.55) scale(0.91,1)" font-size="13.3" text-anchor="end" fill="#262626">0</text>
<text transform="translate(167.20,411.12) scale(0.91,1)" font-size="13.3" text-anchor="end" fill="#262626">0.2</text>
<text transform="translate(167.20,376.69) scale(0.91,1)" font-size="13.3" text-anchor="end" fill="#262626">0.4</text>
<text transform="translate(167.20,342.26) scale(0.91,1)" font-size="13.3" text-anchor="end" fill="#262626">0.6</text>
<text transform="translate(172.50,457.50) scale(0.91,1)" font-size="13.3" text-anchor="middle" fill="#262626">1</text>
<text transform="translate(189.87,457.50) scale(0.91,1)" font-size="13.3" text-anchor="middle" fill="#262626">2</text>
<text transform="translate(207.23,457.50) scale(0.91,1)" font-size="13.3" text-anchor="middle" fill="#262626">3</text>
<text transform="translate(224.60,457.50) scale(0.91,1)" font-size="13.3" text-anchor="middle" fill="#262626">4</text>
<text transform="translate(241.97,457.50) scale(0.91,1)" font-size="13.3" text-anchor="middle" fill="#262626">5</text>
<text transform="translate(259.33,457.50) scale(0.91,1)" font-size="13.3" text-anchor="middle" fill="#262626">6</text>
<text transform="translate(276.70,457.50) scale(0.91,1)" font-size="13.3" text-anchor="middle" fill="#262626">7</text>
<text x="224.60" y="474.40" font-size="12.5" text-anchor="middle" fill="#262626">lead days</text>
<path d="M304.40 441.0v-1.2M304.40 320.5v1.2M321.72 441.0v-1.2M321.72 320.5v1.2M339.03 441.0v-1.2M339.03 320.5v1.2M356.35 441.0v-1.2M356.35 320.5v1.2M373.67 441.0v-1.2M373.67 320.5v1.2M390.98 441.0v-1.2M390.98 320.5v1.2M408.30 441.0v-1.2M408.30 320.5v1.2M304.4 441.00h1.2M408.29999999999995 441.00h-1.2M304.4 406.57h1.2M408.29999999999995 406.57h-1.2M304.4 372.14h1.2M408.29999999999995 372.14h-1.2M304.4 337.71h1.2M408.29999999999995 337.71h-1.2" stroke="#4a4a4a" stroke-width="0.8" fill="none"/>
<rect x="304.4" y="320.5" width="103.9" height="120.5" fill="none" stroke="#4a4a4a" stroke-width="1"/>
<path d="M304.40 398.70 L321.72 413.90 L339.03 418.70 L356.35 417.70 L373.67 429.90 L390.98 431.40 L408.30 439.90" stroke="#808080" stroke-width="1.75" fill="none" stroke-linejoin="round"/>
<circle cx="304.40" cy="398.70" r="3.25" stroke="#808080" stroke-width="1.65" fill="none"/>
<circle cx="321.72" cy="413.90" r="3.25" stroke="#808080" stroke-width="1.65" fill="none"/>
<circle cx="339.03" cy="418.70" r="3.25" stroke="#808080" stroke-width="1.65" fill="none"/>
<circle cx="356.35" cy="417.70" r="3.25" stroke="#808080" stroke-width="1.65" fill="none"/>
<circle cx="373.67" cy="429.90" r="3.25" stroke="#808080" stroke-width="1.65" fill="none"/>
<circle cx="390.98" cy="431.40" r="3.25" stroke="#808080" stroke-width="1.65" fill="none"/>
<circle cx="408.30" cy="439.90" r="3.25" stroke="#808080" stroke-width="1.65" fill="none"/>
<path d="M304.40 402.80 L321.72 406.80 L339.03 412.40 L356.35 406.10 L373.67 409.30 L390.98 422.80 L408.30 413.10" stroke="#ff0000" stroke-width="1.75" fill="none" stroke-linejoin="round"/>
<circle cx="304.40" cy="402.80" r="3.25" stroke="#ff0000" stroke-width="1.65" fill="none"/>
<circle cx="321.72" cy="406.80" r="3.25" stroke="#ff0000" stroke-width="1.65" fill="none"/>
<circle cx="339.03" cy="412.40" r="3.25" stroke="#ff0000" stroke-width="1.65" fill="none"/>
<circle cx="356.35" cy="406.10" r="3.25" stroke="#ff0000" stroke-width="1.65" fill="none"/>
<circle cx="373.67" cy="409.30" r="3.25" stroke="#ff0000" stroke-width="1.65" fill="none"/>
<circle cx="390.98" cy="422.80" r="3.25" stroke="#ff0000" stroke-width="1.65" fill="none"/>
<circle cx="408.30" cy="413.10" r="3.25" stroke="#ff0000" stroke-width="1.65" fill="none"/>
<path d="M304.40 414.70 L321.72 405.60 L339.03 406.80 L356.35 403.70 L373.67 415.00 L390.98 426.00 L408.30 427.40" stroke="#0000ff" stroke-width="1.75" fill="none" stroke-linejoin="round"/>
<circle cx="304.40" cy="414.70" r="3.25" stroke="#0000ff" stroke-width="1.65" fill="none"/>
<circle cx="321.72" cy="405.60" r="3.25" stroke="#0000ff" stroke-width="1.65" fill="none"/>
<circle cx="339.03" cy="406.80" r="3.25" stroke="#0000ff" stroke-width="1.65" fill="none"/>
<circle cx="356.35" cy="403.70" r="3.25" stroke="#0000ff" stroke-width="1.65" fill="none"/>
<circle cx="373.67" cy="415.00" r="3.25" stroke="#0000ff" stroke-width="1.65" fill="none"/>
<circle cx="390.98" cy="426.00" r="3.25" stroke="#0000ff" stroke-width="1.65" fill="none"/>
<circle cx="408.30" cy="427.40" r="3.25" stroke="#0000ff" stroke-width="1.65" fill="none"/>
<path d="M304.40 414.70 L321.72 412.70 L339.03 419.30 L356.35 413.70 L373.67 419.30 L390.98 423.70 L408.30 436.80" stroke="#00ff00" stroke-width="1.75" fill="none" stroke-linejoin="round"/>
<circle cx="304.40" cy="414.70" r="3.25" stroke="#00ff00" stroke-width="1.65" fill="none"/>
<circle cx="321.72" cy="412.70" r="3.25" stroke="#00ff00" stroke-width="1.65" fill="none"/>
<circle cx="339.03" cy="419.30" r="3.25" stroke="#00ff00" stroke-width="1.65" fill="none"/>
<circle cx="356.35" cy="413.70" r="3.25" stroke="#00ff00" stroke-width="1.65" fill="none"/>
<circle cx="373.67" cy="419.30" r="3.25" stroke="#00ff00" stroke-width="1.65" fill="none"/>
<circle cx="390.98" cy="423.70" r="3.25" stroke="#00ff00" stroke-width="1.65" fill="none"/>
<circle cx="408.30" cy="436.80" r="3.25" stroke="#00ff00" stroke-width="1.65" fill="none"/>
<text transform="translate(299.10,445.55) scale(0.91,1)" font-size="13.3" text-anchor="end" fill="#262626">0</text>
<text transform="translate(299.10,411.12) scale(0.91,1)" font-size="13.3" text-anchor="end" fill="#262626">0.2</text>
<text transform="translate(299.10,376.69) scale(0.91,1)" font-size="13.3" text-anchor="end" fill="#262626">0.4</text>
<text transform="translate(299.10,342.26) scale(0.91,1)" font-size="13.3" text-anchor="end" fill="#262626">0.6</text>
<text transform="translate(304.40,457.50) scale(0.91,1)" font-size="13.3" text-anchor="middle" fill="#262626">1</text>
<text transform="translate(321.72,457.50) scale(0.91,1)" font-size="13.3" text-anchor="middle" fill="#262626">2</text>
<text transform="translate(339.03,457.50) scale(0.91,1)" font-size="13.3" text-anchor="middle" fill="#262626">3</text>
<text transform="translate(356.35,457.50) scale(0.91,1)" font-size="13.3" text-anchor="middle" fill="#262626">4</text>
<text transform="translate(373.67,457.50) scale(0.91,1)" font-size="13.3" text-anchor="middle" fill="#262626">5</text>
<text transform="translate(390.98,457.50) scale(0.91,1)" font-size="13.3" text-anchor="middle" fill="#262626">6</text>
<text transform="translate(408.30,457.50) scale(0.91,1)" font-size="13.3" text-anchor="middle" fill="#262626">7</text>
<text x="356.35" y="474.40" font-size="12.5" text-anchor="middle" fill="#262626">lead days</text>
<path d="M436.00 441.0v-1.2M436.00 320.5v1.2M453.25 441.0v-1.2M453.25 320.5v1.2M470.50 441.0v-1.2M470.50 320.5v1.2M487.75 441.0v-1.2M487.75 320.5v1.2M505.00 441.0v-1.2M505.00 320.5v1.2M522.25 441.0v-1.2M522.25 320.5v1.2M539.50 441.0v-1.2M539.50 320.5v1.2M436.0 441.00h1.2M539.5 441.00h-1.2M436.0 406.57h1.2M539.5 406.57h-1.2M436.0 372.14h1.2M539.5 372.14h-1.2M436.0 337.71h1.2M539.5 337.71h-1.2" stroke="#4a4a4a" stroke-width="0.8" fill="none"/>
<rect x="436.0" y="320.5" width="103.5" height="120.5" fill="none" stroke="#4a4a4a" stroke-width="1"/>
<path d="M436.00 441.00 L453.25 441.00 L470.50 441.00 L487.75 441.00 L505.00 441.00 L522.25 441.00 L539.50 441.00" stroke="#808080" stroke-width="1.75" fill="none" stroke-linejoin="round"/>
<circle cx="436.00" cy="441.00" r="3.25" stroke="#808080" stroke-width="1.65" fill="none"/>
<circle cx="453.25" cy="441.00" r="3.25" stroke="#808080" stroke-width="1.65" fill="none"/>
<circle cx="470.50" cy="441.00" r="3.25" stroke="#808080" stroke-width="1.65" fill="none"/>
<circle cx="487.75" cy="441.00" r="3.25" stroke="#808080" stroke-width="1.65" fill="none"/>
<circle cx="505.00" cy="441.00" r="3.25" stroke="#808080" stroke-width="1.65" fill="none"/>
<circle cx="522.25" cy="441.00" r="3.25" stroke="#808080" stroke-width="1.65" fill="none"/>
<circle cx="539.50" cy="441.00" r="3.25" stroke="#808080" stroke-width="1.65" fill="none"/>
<path d="M436.00 441.00 L453.25 441.00 L470.50 433.10 L487.75 441.00 L505.00 441.00 L522.25 441.00 L539.50 441.00" stroke="#ff0000" stroke-width="1.75" fill="none" stroke-linejoin="round"/>
<circle cx="436.00" cy="441.00" r="3.25" stroke="#ff0000" stroke-width="1.65" fill="none"/>
<circle cx="453.25" cy="441.00" r="3.25" stroke="#ff0000" stroke-width="1.65" fill="none"/>
<circle cx="470.50" cy="433.10" r="3.25" stroke="#ff0000" stroke-width="1.65" fill="none"/>
<circle cx="487.75" cy="441.00" r="3.25" stroke="#ff0000" stroke-width="1.65" fill="none"/>
<circle cx="505.00" cy="441.00" r="3.25" stroke="#ff0000" stroke-width="1.65" fill="none"/>
<circle cx="522.25" cy="441.00" r="3.25" stroke="#ff0000" stroke-width="1.65" fill="none"/>
<circle cx="539.50" cy="441.00" r="3.25" stroke="#ff0000" stroke-width="1.65" fill="none"/>
<path d="M436.00 428.10 L453.25 441.00 L470.50 441.00 L487.75 441.00 L505.00 441.00 L522.25 441.00 L539.50 441.00" stroke="#0000ff" stroke-width="1.75" fill="none" stroke-linejoin="round"/>
<circle cx="436.00" cy="428.10" r="3.25" stroke="#0000ff" stroke-width="1.65" fill="none"/>
<circle cx="453.25" cy="441.00" r="3.25" stroke="#0000ff" stroke-width="1.65" fill="none"/>
<circle cx="470.50" cy="441.00" r="3.25" stroke="#0000ff" stroke-width="1.65" fill="none"/>
<circle cx="487.75" cy="441.00" r="3.25" stroke="#0000ff" stroke-width="1.65" fill="none"/>
<circle cx="505.00" cy="441.00" r="3.25" stroke="#0000ff" stroke-width="1.65" fill="none"/>
<circle cx="522.25" cy="441.00" r="3.25" stroke="#0000ff" stroke-width="1.65" fill="none"/>
<circle cx="539.50" cy="441.00" r="3.25" stroke="#0000ff" stroke-width="1.65" fill="none"/>
<path d="M436.00 441.00 L453.25 441.00 L470.50 441.00 L487.75 441.00 L505.00 441.00 L522.25 441.00 L539.50 441.00" stroke="#00ff00" stroke-width="1.75" fill="none" stroke-linejoin="round"/>
<circle cx="436.00" cy="441.00" r="3.25" stroke="#00ff00" stroke-width="1.65" fill="none"/>
<circle cx="453.25" cy="441.00" r="3.25" stroke="#00ff00" stroke-width="1.65" fill="none"/>
<circle cx="470.50" cy="441.00" r="3.25" stroke="#00ff00" stroke-width="1.65" fill="none"/>
<circle cx="487.75" cy="441.00" r="3.25" stroke="#00ff00" stroke-width="1.65" fill="none"/>
<circle cx="505.00" cy="441.00" r="3.25" stroke="#00ff00" stroke-width="1.65" fill="none"/>
<circle cx="522.25" cy="441.00" r="3.25" stroke="#00ff00" stroke-width="1.65" fill="none"/>
<circle cx="539.50" cy="441.00" r="3.25" stroke="#00ff00" stroke-width="1.65" fill="none"/>
<text transform="translate(430.70,445.55) scale(0.91,1)" font-size="13.3" text-anchor="end" fill="#262626">0</text>
<text transform="translate(430.70,411.12) scale(0.91,1)" font-size="13.3" text-anchor="end" fill="#262626">0.2</text>
<text transform="translate(430.70,376.69) scale(0.91,1)" font-size="13.3" text-anchor="end" fill="#262626">0.4</text>
<text transform="translate(430.70,342.26) scale(0.91,1)" font-size="13.3" text-anchor="end" fill="#262626">0.6</text>
<text transform="translate(436.00,457.50) scale(0.91,1)" font-size="13.3" text-anchor="middle" fill="#262626">1</text>
<text transform="translate(453.25,457.50) scale(0.91,1)" font-size="13.3" text-anchor="middle" fill="#262626">2</text>
<text transform="translate(470.50,457.50) scale(0.91,1)" font-size="13.3" text-anchor="middle" fill="#262626">3</text>
<text transform="translate(487.75,457.50) scale(0.91,1)" font-size="13.3" text-anchor="middle" fill="#262626">4</text>
<text transform="translate(505.00,457.50) scale(0.91,1)" font-size="13.3" text-anchor="middle" fill="#262626">5</text>
<text transform="translate(522.25,457.50) scale(0.91,1)" font-size="13.3" text-anchor="middle" fill="#262626">6</text>
<text transform="translate(539.50,457.50) scale(0.91,1)" font-size="13.3" text-anchor="middle" fill="#262626">7</text>
<text x="487.75" y="474.40" font-size="12.5" text-anchor="middle" fill="#262626">lead days</text>
<text transform="translate(13.9,380.75) rotate(-90)" font-size="12.4" text-anchor="middle" fill="#262626">GPP</text>
<path d="M48 89.00H79.3" stroke="#808080" stroke-width="1.75"/>
<circle cx="63.5" cy="89.00" r="3.25" stroke="#808080" stroke-width="1.65" fill="none"/>
<text x="82" y="93.30" font-size="12.8" fill="#262626">CMA</text>
<path d="M48 104.40H79.3" stroke="#ff0000" stroke-width="1.75"/>
<circle cx="63.5" cy="104.40" r="3.25" stroke="#ff0000" stroke-width="1.65" fill="none"/>
<text x="82" y="108.70" font-size="12.8" fill="#262626">ECMWF</text>
<path d="M48 119.80H79.3" stroke="#0000ff" stroke-width="1.75"/>
<circle cx="63.5" cy="119.80" r="3.25" stroke="#0000ff" stroke-width="1.65" fill="none"/>
<text x="82" y="124.10" font-size="12.8" fill="#262626">JMA</text>
<path d="M48 135.20H79.3" stroke="#00ff00" stroke-width="1.75"/>
<circle cx="63.5" cy="135.20" r="3.25" stroke="#00ff00" stroke-width="1.65" fill="none"/>
<text x="82" y="139.50" font-size="12.8" fill="#262626">NCEP</text>
</svg></body></html>
